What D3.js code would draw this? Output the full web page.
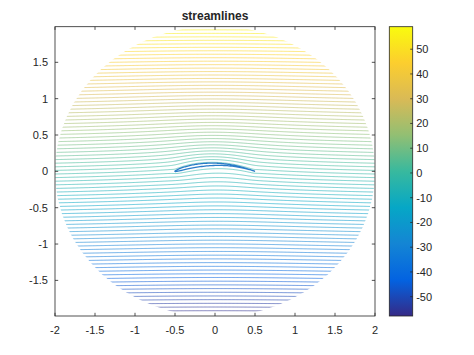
<!DOCTYPE html>
<html>
<head>
<meta charset="utf-8">
<script src="https://cdn.jsdelivr.net/npm/d3@7"></script>
<style>
  body { margin: 0; background: #fff; }
  text { font-family: "Liberation Sans", Arial, sans-serif; fill: #262626; }
</style>
</head>
<body>
<svg id="chart" width="474" height="355"></svg>
<script>
// ---- data ----
const xTicks = [-2, -1.5, -1, -0.5, 0, 0.5, 1, 1.5, 2];
const yTicks = [-1.5, -1, -0.5, 0, 0.5, 1, 1.5];
const cbTicks = [-50, -40, -30, -20, -10, 0, 10, 20, 30, 40, 50];
const xLimits = [-2, 2];
const yLimits = [-1.99, 1.99];
const colorLimits = [-57.8, 59.1];
const nLevels = 80;
// parula colormap stops
const parula = ["#352a87", "#0363e1", "#1485d4", "#06a7c6", "#38b99e", "#92bf73", "#d9ba56", "#fcce2e", "#f9fb0e"];

// flow model: Joukowski airfoil in uniform stream with circulation
const Uinf = 29.2, alpha = 0, c = 0.25, mu = [-0.008, 0.05], domainR = 2;
const circFactor = 0.5; // fraction of the Kutta circulation

var svg = d3.select("#chart");

let box = { left: 55, right: 375, top: 26.7, bottom: 316 };
let x = d3.scaleLinear().domain(xLimits).range([box.left, box.right]);
let y = d3.scaleLinear().domain(yLimits).range([box.bottom, box.top]);

let color = d3.scaleLinear()
    .domain(d3.range(parula.length).map(i => colorLimits[0] + i * (colorLimits[1] - colorLimits[0]) / (parula.length - 1)))
    .range(parula)
    .interpolate(d3.interpolateRgb);

// circle in zeta plane
const a = Math.hypot(c - mu[0], mu[1]);
const beta = Math.atan2(mu[1], c - mu[0]);
const G = circFactor * 2 * Uinf * a * Math.sin(alpha + beta); // Gamma / (2 pi)

function psi(px, py) {
    // inverse Joukowski, root outside the circle
    let u = px * px - py * py - 4 * c * c, v = 2 * px * py;
    let r = Math.hypot(u, v);
    let sr = Math.sqrt(Math.max(0, (r + u) / 2));
    let si = (v >= 0 ? 1 : -1) * Math.sqrt(Math.max(0, (r - u) / 2));
    let z1 = [(px + sr) / 2, (py + si) / 2], z2 = [(px - sr) / 2, (py - si) / 2];
    let d1 = Math.hypot(z1[0] - mu[0], z1[1] - mu[1]), d2 = Math.hypot(z2[0] - mu[0], z2[1] - mu[1]);
    let z = d1 >= d2 ? z1 : z2;
    let p = z[0] - mu[0], q = z[1] - mu[1];
    let r2 = p * p + q * q;
    let ca = Math.cos(alpha), sa = Math.sin(alpha);
    return Uinf * ((q * ca - p * sa) + a * a * (p * sa - q * ca) / r2) + G * Math.log(Math.sqrt(r2));
}

// sample grid (offset so no sample falls exactly on an axis)
const g0 = -2.2037, dx = 0.01, n = 442;
let values = new Float64Array(n * n);
for (let j = 0; j < n; j++) {
    for (let i = 0; i < n; i++) {
        values[j * n + i] = psi(g0 + i * dx, g0 + j * dx);
    }
}

let levels = d3.range(nLevels).map(k => colorLimits[0] + (k + 1) * (colorLimits[1] - colorLimits[0]) / (nLevels + 1));
let contours = d3.contours().size([n, n]).thresholds(levels)(values);

let proj = d3.geoTransform({
    point: function (gx, gy) {
        this.stream.point(x(g0 + (gx - 0.5) * dx), y(g0 + (gy - 0.5) * dx));
    }
});
let path = d3.geoPath(proj);

// clip: axes box and circle of radius 2
let defs = svg.append("defs");
defs.append("clipPath").attr("id", "boxclip")
    .append("rect")
    .attr("x", box.left).attr("y", box.top)
    .attr("width", box.right - box.left).attr("height", box.bottom - box.top);
defs.append("clipPath").attr("id", "diskclip")
    .append("ellipse")
    .attr("cx", x(0)).attr("cy", y(0))
    .attr("rx", x(domainR) - x(0)).attr("ry", y(0) - y(domainR));

let plot = svg.append("g").attr("clip-path", "url(#boxclip)")
    .append("g").attr("clip-path", "url(#diskclip)");

plot.selectAll("path.level")
    .data(contours)
    .enter()
    .append("path")
    .attr("class", "level")
    .attr("d", path)
    .attr("fill", "none")
    .attr("stroke", d => color(d.value))
    .attr("stroke-width", 0.8)
    .attr("stroke-opacity", 0.75);

// airfoil outline
let foil = d3.range(0, 361, 2).map(t => {
    let th = t * Math.PI / 180;
    let zr = mu[0] + a * Math.cos(th), zi = mu[1] + a * Math.sin(th);
    let m = zr * zr + zi * zi;
    return [zr + c * c * zr / m, zi - c * c * zi / m];
});
plot.append("path")
    .attr("d", d3.line().x(d => x(d[0])).y(d => y(d[1]))(foil) + "Z")
    .attr("fill", "#fff")
    .attr("stroke", "#2a7cc8")
    .attr("stroke-width", 1.3);

// axes box and ticks (inward, all four sides)
let axisColor = "#262626";
let tl = 3.2;
svg.append("rect")
    .attr("x", box.left).attr("y", box.top)
    .attr("width", box.right - box.left).attr("height", box.bottom - box.top)
    .attr("fill", "none").attr("stroke", axisColor).attr("stroke-width", 0.8);

let ticks = svg.append("g").attr("stroke", axisColor).attr("stroke-width", 0.8);
xTicks.forEach(t => {
    ticks.append("line").attr("x1", x(t)).attr("x2", x(t)).attr("y1", box.bottom).attr("y2", box.bottom - tl);
    ticks.append("line").attr("x1", x(t)).attr("x2", x(t)).attr("y1", box.top).attr("y2", box.top + tl);
});
yTicks.forEach(t => {
    ticks.append("line").attr("y1", y(t)).attr("y2", y(t)).attr("x1", box.left).attr("x2", box.left + tl);
    ticks.append("line").attr("y1", y(t)).attr("y2", y(t)).attr("x1", box.right).attr("x2", box.right - tl);
});

svg.append("g").selectAll("text")
    .data(xTicks).enter().append("text")
    .attr("x", d => x(d)).attr("y", box.bottom + 18)
    .attr("text-anchor", "middle").attr("font-size", 11)
    .text(d => d);

svg.append("g").selectAll("text")
    .data(yTicks).enter().append("text")
    .attr("x", box.left - 7).attr("y", d => y(d) + 4)
    .attr("text-anchor", "end").attr("font-size", 11)
    .text(d => d);

svg.append("text")
    .attr("x", (box.left + box.right) / 2).attr("y", 20)
    .attr("text-anchor", "middle").attr("font-size", 12).attr("font-weight", "bold")
    .attr("fill", "#000")
    .text("streamlines");

// colorbar
let cb = { left: 389.3, right: 412.7, top: 26.7, bottom: 316 };
let cy = d3.scaleLinear().domain(colorLimits).range([cb.bottom, cb.top]);
let grad = defs.append("linearGradient").attr("id", "parula")
    .attr("x1", 0).attr("y1", 1).attr("x2", 0).attr("y2", 0);
parula.forEach((col, i) => {
    grad.append("stop").attr("offset", i / (parula.length - 1)).attr("stop-color", col);
});
svg.append("rect")
    .attr("x", cb.left).attr("y", cb.top)
    .attr("width", cb.right - cb.left).attr("height", cb.bottom - cb.top)
    .attr("fill", "url(#parula)")
    .attr("stroke", axisColor).attr("stroke-width", 0.8);

let cbt = svg.append("g").attr("stroke", axisColor).attr("stroke-width", 0.8);
cbTicks.forEach(t => {
    cbt.append("line").attr("x1", cb.right - 2.5).attr("x2", cb.right).attr("y1", cy(t)).attr("y2", cy(t));
});
svg.append("g").selectAll("text")
    .data(cbTicks).enter().append("text")
    .attr("x", cb.right + 3.5).attr("y", d => cy(d) + 4)
    .attr("font-size", 11)
    .text(d => d);
</script>
</body>
</html>
